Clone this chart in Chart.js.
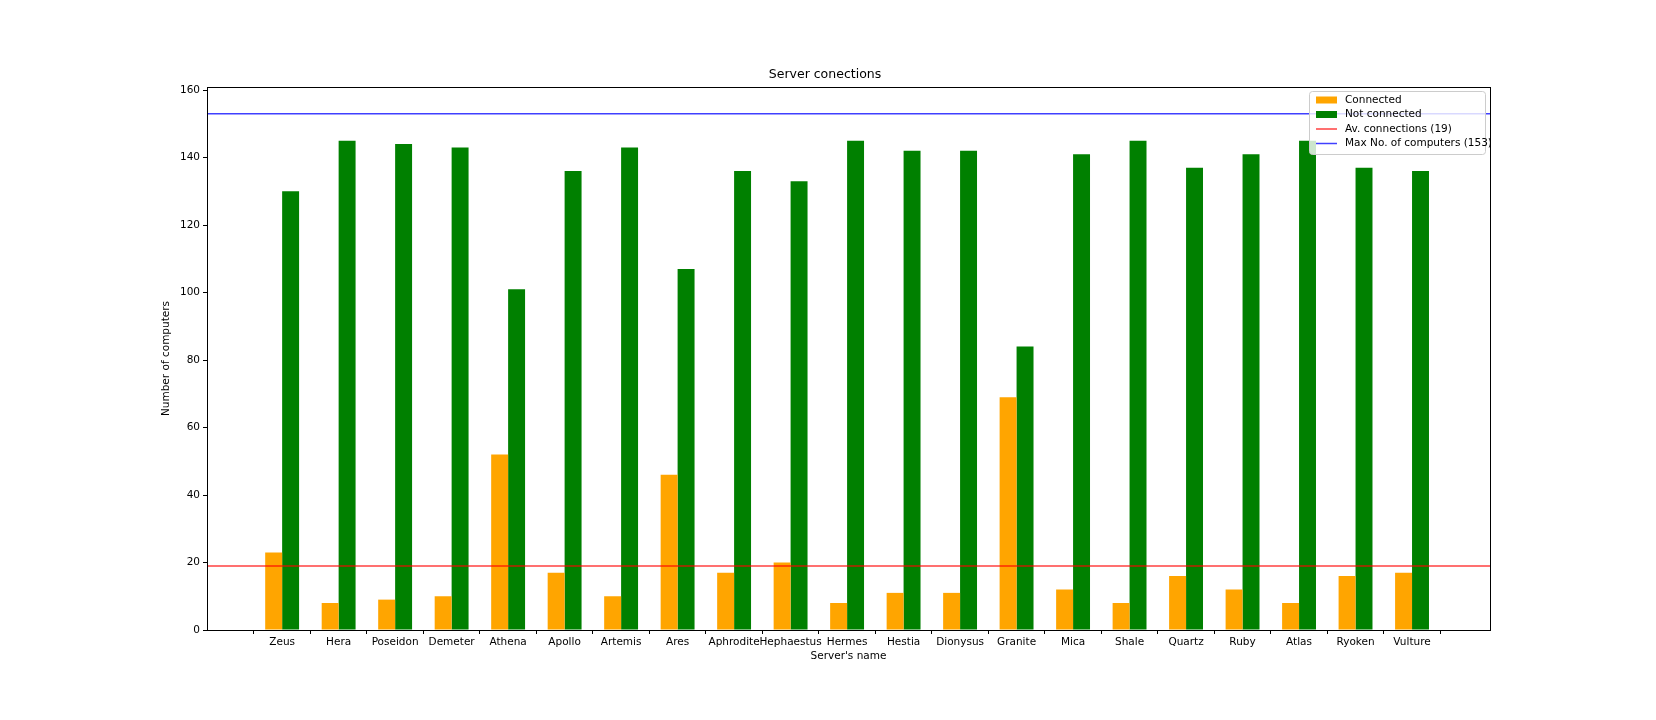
<!DOCTYPE html>
<html><head><meta charset="utf-8">
<script src="https://cdn.jsdelivr.net/npm/chart.js@4"></script>
<style>html,body{margin:0;padding:0;background:#fff}#w{width:1656px;height:720px}</style>
</head><body><div id="w"><canvas id="c"></canvas></div>
<script>
const servers = ["Zeus","Hera","Poseidon","Demeter","Athena","Apollo","Artemis","Ares","Aphrodite","Hephaestus","Hermes","Hestia","Dionysus","Granite","Mica","Shale","Quartz","Ruby","Atlas","Ryoken","Vulture"];
const connected = [23,8,9,10,52,17,10,46,17,20,8,11,11,69,12,8,16,12,8,16,17];
const notConnected = [130,145,144,143,101,136,143,107,136,133,145,142,142,84,141,145,137,141,145,137,136];
const avgConnections = 19;
const maxComputers = 153;
const yTicks = [0,20,40,60,80,100,120,140,160];

const XMIN = -1.33, XMAX = 21.38;
const F = "'DejaVu Sans', sans-serif";

const framePlugin = {
  id:'frame',
  afterDraw(chart){
    const {ctx, chartArea:a} = chart;
    ctx.save();
    ctx.strokeStyle='#000'; ctx.lineWidth=1;
    ctx.strokeRect(a.left+0.5,a.top+0.5,a.right-a.left,a.bottom-a.top);
    // legend
    const bx=1309, by=91, bw=176, bh=63;
    ctx.fillStyle='rgba(255,255,255,0.8)';
    ctx.strokeStyle='#cccccc';
    ctx.beginPath(); ctx.roundRect(bx+0.5,by+0.5,bw,bh,3); ctx.fill(); ctx.stroke();
    ctx.font="10.5px "+F; ctx.textBaseline='middle'; ctx.textAlign='left';
    const order=[0,1,2,3];
    order.forEach((di,i)=>{
      const ds=chart.data.datasets[di];
      const y=by+9+i*14.5;
      if(ds.type==='line'){
        ctx.strokeStyle=ds.borderColor; ctx.lineWidth=1.5;
        ctx.beginPath(); ctx.moveTo(bx+7,y); ctx.lineTo(bx+28,y); ctx.stroke();
      } else {
        ctx.fillStyle=ds.backgroundColor; ctx.fillRect(bx+7,y-3.5,21,7);
      }
      ctx.fillStyle='#000'; ctx.fillText(ds.label,bx+36,y);
    });
    ctx.restore();
  }
};

new Chart(document.getElementById('c'),{
  type:'bar',
  data:{datasets:[
    {label:'Connected',data:servers.map((s,i)=>({x:i,y:connected[i]})),backgroundColor:'#ffa500',categoryPercentage:0.6,barPercentage:1,order:2},
    {label:'Not connected',data:servers.map((s,i)=>({x:i,y:notConnected[i]})),backgroundColor:'#008000',categoryPercentage:0.6,barPercentage:1,order:2},
    {type:'line',label:'Av. connections ('+avgConnections+')',data:[{x:XMIN,y:avgConnections},{x:XMAX,y:avgConnections}],borderColor:'rgba(255,0,0,0.75)',borderWidth:1.5,pointRadius:0,order:1},
    {type:'line',label:'Max No. of computers ('+maxComputers+')',data:[{x:XMIN,y:maxComputers},{x:XMAX,y:maxComputers}],borderColor:'rgba(0,0,255,0.75)',borderWidth:1.5,pointRadius:0,order:1}
  ]},
  options:{
    responsive:true, maintainAspectRatio:false, animation:false,
    layout:{padding:{left:160,right:166,top:0,bottom:53}},
    plugins:{
      legend:{display:false}, tooltip:{enabled:false},
      title:{display:true,text:'Server conections',color:'#000',font:{family:F,size:12.5,weight:'normal'},padding:{top:67,bottom:5}}
    },
    scales:{
      x:{type:'linear',min:XMIN,max:XMAX,offset:false,
        afterBuildTicks(s){s.ticks=servers.map((n,i)=>({value:i}));},
        afterFit(s){s.height=37;},
        grid:{drawOnChartArea:false,color:'#000',tickLength:4},
        border:{display:false},
        ticks:{color:'#000',font:{family:F,size:10.5},padding:2,maxRotation:0,autoSkip:false,callback:(v)=>servers[v]},
        title:{display:true,text:"Server's name",color:'#000',font:{family:F,size:10.5},padding:{top:2,bottom:4}}
      },
      y:{min:0,max:160.9,
        afterBuildTicks(s){s.ticks=yTicks.map(v=>({value:v}));},
        afterFit(s){s.width=47;},
        grid:{drawOnChartArea:false,color:'#000',tickLength:4},
        border:{display:false},
        ticks:{color:'#000',font:{family:F,size:10.5},padding:3},
        title:{display:true,text:'Number of computers',color:'#000',font:{family:F,size:10.5},padding:{top:0,bottom:4}}
      }
    }
  },
  plugins:[framePlugin]
});
</script></body></html>
